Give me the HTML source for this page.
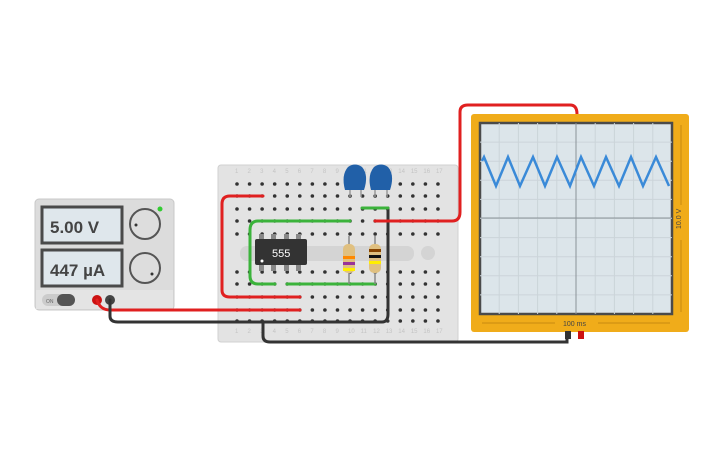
<!DOCTYPE html>
<html><head><style>body{margin:0;background:#fff}svg{display:block}</style></head><body>
<svg width="725" height="453" viewBox="0 0 725 453" xmlns="http://www.w3.org/2000/svg" font-family="Liberation Sans, sans-serif">
<!-- Power supply -->
<rect x="35" y="199" width="139" height="111" rx="4" fill="#dcdcdc" stroke="#c8c8c8"/>
<rect x="36" y="290" width="137" height="19" fill="#e4e4e4"/>
<rect x="42" y="207" width="80" height="36" fill="#dfe7ec" stroke="#4a4a4a" stroke-width="3"/>
<rect x="42" y="250" width="80" height="36" fill="#dfe7ec" stroke="#4a4a4a" stroke-width="3"/>
<text x="50" y="233" font-size="17" font-weight="bold" fill="#444">5.00 V</text>
<text x="50" y="276" font-size="17" font-weight="bold" fill="#444">447 µA</text>
<circle cx="145" cy="224" r="15" fill="#ddd" stroke="#555" stroke-width="2"/>
<circle cx="145" cy="268" r="15" fill="#ddd" stroke="#555" stroke-width="2"/>
<circle cx="136" cy="225" r="1.5" fill="#333"/><circle cx="152" cy="274" r="1.5" fill="#333"/>
<circle cx="160" cy="209" r="2.5" fill="#3c3"/>
<rect x="42" y="294" width="33" height="12" rx="6" fill="#ccc"/>
<rect x="57" y="294" width="18" height="12" rx="6" fill="#555"/>
<text x="46" y="303" font-size="5" fill="#666">ON</text>
<circle cx="97" cy="300" r="5" fill="#c11"/><circle cx="110" cy="300" r="5" fill="#444"/>
<!-- Breadboard -->
<rect x="218" y="165" width="240" height="177" rx="3" fill="#e3e3e3" stroke="#d0d0d0"/>
<rect x="240" y="246" width="174" height="15" rx="7" fill="#d4d4d4"/>
<circle cx="428" cy="253" r="7" fill="#d4d4d4"/>
<g fill="#333" id="holes"></g>
<g fill="#c4c4c4" font-size="6" id="nums"></g>
<!-- wires -->
<g fill="none" stroke-linecap="round" stroke-width="3">
<path d="M263 196 H230 Q222 196 222 204 V290 Q222 297 230 297 H300" stroke="#e02020"/>
<path d="M97 300 Q100 310 110 310 H300" stroke="#e02020"/>
<path d="M110 300 V316 Q110 322 118 322 H382 Q388 322 388 314 V208" stroke="#333"/>
<path d="M263 322 V336 Q263 342 270 342 H567 V335" stroke="#333"/>
<path d="M362 208 H388" stroke="#3bb33b"/>
<path d="M375 221 H452 Q460 221 460 212 V112 Q460 105 468 105 H570 Q577 105 577 114" stroke="#e02020"/>
<path d="M350 221 H258 Q250 221 250 230 V276 Q250 284 258 284 H275" stroke="#3bb33b"/>
<path d="M287 284 H375" stroke="#3bb33b"/>
</g>
<!-- 555 -->
<g fill="#888"><rect x="259" y="234" width="5" height="6"/><rect x="271" y="234" width="5" height="6"/><rect x="284" y="234" width="5" height="6"/><rect x="296" y="234" width="5" height="6"/>
<rect x="259" y="264" width="5" height="7"/><rect x="271" y="264" width="5" height="7"/><rect x="284" y="264" width="5" height="7"/><rect x="296" y="264" width="5" height="7"/></g>
<rect x="255" y="239" width="52" height="26" rx="2" fill="#333"/>
<text x="272" y="257" font-size="11" fill="#fff">555</text>
<circle cx="262" cy="261" r="1.5" fill="#fff"/>
<!-- resistors -->
<line x1="349" y1="236" x2="349" y2="284" stroke="#888" stroke-width="1.5"/>
<line x1="375" y1="236" x2="375" y2="284" stroke="#888" stroke-width="1.5"/>
<rect x="343" y="244" width="12" height="29" rx="5" fill="#e0c080"/>
<rect x="369" y="244" width="12" height="29" rx="5" fill="#e0c080"/>
<rect x="343" y="256" width="12" height="3" fill="#f80"/><rect x="343" y="262" width="12" height="3" fill="#939"/><rect x="343" y="268" width="12" height="3" fill="#fe0"/>
<rect x="369" y="249" width="12" height="3" fill="#840"/><rect x="369" y="255" width="12" height="3" fill="#111"/><rect x="369" y="261" width="12" height="3" fill="#fe0"/>
<!-- caps -->
<g stroke="#999" stroke-width="1.5"><line x1="350" y1="188" x2="350" y2="197"/><line x1="361" y1="188" x2="361" y2="197"/><line x1="375" y1="188" x2="375" y2="197"/><line x1="387" y1="188" x2="387" y2="197"/></g>
<path d="M345 190 Q341 175 348 167 Q355 162 362 167 Q369 175 364 190 Z" fill="#2160a8"/>
<path d="M371 190 Q367 175 374 167 Q381 162 388 167 Q395 175 390 190 Z" fill="#2160a8"/>
<!-- Scope -->
<rect x="471" y="114" width="218" height="218" rx="3" fill="#f0ac1a"/>
<rect x="480" y="123" width="192" height="191" fill="#dce5ea" stroke="#4a4a4a" stroke-width="2.5"/>
<g stroke="#cbd4d9" stroke-width="1" id="grid"></g>
<line x1="576" y1="123" x2="576" y2="314" stroke="#8a9298"/>
<line x1="480" y1="218" x2="672" y2="218" stroke="#8a9298"/>
<polyline fill="none" stroke="#3a8ad8" stroke-width="2.5" points="482,161 484,157 496,186 508,157 520,186 533,157 545,186 557,157 570,186 581,157 594,186 606,157 619,186 631,157 643,186 656,157 669,186"/>
<text x="563" y="326" font-size="7" fill="#444">100 ms</text>
<line x1="482" y1="323" x2="555" y2="323" stroke="#c88a10"/><line x1="598" y1="323" x2="670" y2="323" stroke="#c88a10"/>
<text x="0" y="0" font-size="7" fill="#444" transform="translate(681 229) rotate(-90)">10.0 V</text>
<line x1="681" y1="125" x2="681" y2="205" stroke="#c88a10"/><line x1="681" y1="240" x2="681" y2="312" stroke="#c88a10"/>
<rect x="565" y="331" width="6" height="8" fill="#333"/><rect x="578" y="331" width="6" height="8" fill="#c11"/>
</svg>
<script>
var ns="http://www.w3.org/2000/svg",h=document.getElementById("holes"),n=document.getElementById("nums"),g=document.getElementById("grid");
var rows=[184,196,209,221,234,272,284,297,310,321];
for(var c=0;c<17;c++){var x=237+c*12.56;for(var r=0;r<10;r++){var e=document.createElementNS(ns,"circle");e.setAttribute("cx",x);e.setAttribute("cy",rows[r]);e.setAttribute("r",1.8);h.appendChild(e);}
[173,333].forEach(function(y){var t=document.createElementNS(ns,"text");t.setAttribute("x",x-2);t.setAttribute("y",y);t.textContent=c+1;n.appendChild(t);});}
for(var i=1;i<10;i++){var l=document.createElementNS(ns,"line");var xx=480+i*19.2;l.setAttribute("x1",xx);l.setAttribute("x2",xx);l.setAttribute("y1",123);l.setAttribute("y2",314);g.appendChild(l);
var m=document.createElementNS(ns,"line");var yy=123+i*19.1;m.setAttribute("y1",yy);m.setAttribute("y2",yy);m.setAttribute("x1",480);m.setAttribute("x2",672);g.appendChild(m);}
</script>
</body></html>
